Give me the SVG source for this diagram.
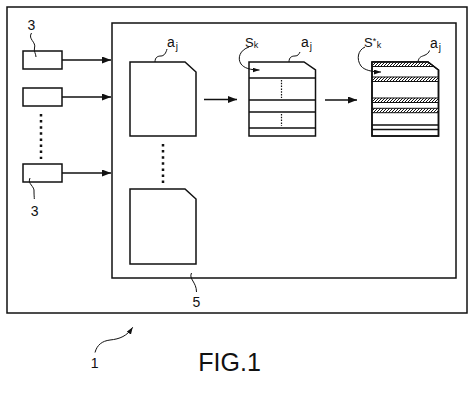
<svg xmlns="http://www.w3.org/2000/svg" width="474" height="420" viewBox="0 0 474 420">
<defs>
<style>
.ln{fill:none;stroke:#111;stroke-width:1.5}
.th{fill:none;stroke:#111;stroke-width:1}
.box{fill:#fff;stroke:#111;stroke-width:1.5}
.t{font-family:"Liberation Sans",Arial,sans-serif;fill:#111}
.dots{fill:none;stroke:#111;stroke-width:2.5;stroke-dasharray:2.5 3.6}
.fine{fill:none;stroke:#111;stroke-width:1.2;stroke-dasharray:1.5 1.3}
.hb{fill:url(#hatch);stroke:#111;stroke-width:1}
</style>
<pattern id="hatch" patternUnits="userSpaceOnUse" width="3" height="3">
<rect width="3" height="3" fill="#fff"/>
<path d="M-1,1 L1,-1 M0,3 L3,0 M2,4 L4,2" stroke="#111" stroke-width="1"/>
</pattern>
<marker id="ah" markerUnits="userSpaceOnUse" markerWidth="10" markerHeight="8" refX="9" refY="3.5" orient="auto">
<path d="M0,0 L9,3.5 L0,7 Z" fill="#111"/>
</marker>
<marker id="ahs" markerUnits="userSpaceOnUse" markerWidth="8" markerHeight="6" refX="7" refY="2.5" orient="auto">
<path d="M0,0 L7,2.5 L0,5 Z" fill="#111"/>
</marker>
</defs>
<rect width="474" height="420" fill="#fff"/>

<g id="system-1">
<rect class="ln" x="7" y="7" width="460" height="306"/>
</g>
<g id="unit-5">
<rect class="ln" x="112" y="23" width="344" height="255"/>
</g>

<g id="source-3a"><rect class="box" x="23" y="51" width="39" height="18"/></g>
<g id="source-3b"><rect class="box" x="23" y="88" width="39" height="18"/></g>
<g id="source-3c"><rect class="box" x="23" y="164" width="39" height="18"/></g>
<g id="source-dots"><line class="dots" x1="41" y1="114" x2="41" y2="159"/></g>

<g id="doc-aj-1"><path class="box" d="M130,62 H185 L196,72 V136 H130 Z"/></g>
<g id="doc-dots"><line class="dots" x1="163" y1="144" x2="163" y2="183"/></g>
<g id="doc-an"><path class="box" d="M130,189 H185 L196,199 V264 H130 Z"/></g>

<g id="doc-aj-segmented">
<path class="box" d="M249,62 H304 L315.5,70 V136 H249 Z"/>
<path class="ln" d="M249,78 H315.5 M249,100 H315.5 M249,112 H315.5 M249,128 H315.5"/>
<line class="fine" x1="281.5" y1="80" x2="281.5" y2="98"/>
<line class="fine" x1="281.5" y1="114" x2="281.5" y2="126"/>
</g>

<g id="doc-aj-marked">
<path class="box" d="M372,62 H428 L438.5,70 V136 H372 Z"/>
<path class="hb" d="M372,62 H428 L433.9,66.5 H372 Z"/>
<rect class="hb" x="372" y="77" width="66.5" height="4.5"/>
<rect class="hb" x="372" y="98" width="66.5" height="4.5"/>
<rect class="hb" x="372" y="108.3" width="66.5" height="4.4"/>
<path class="ln" d="M372,125 H438.5 M372,129.5 H438.5"/>
<path class="ln" d="M372,62 H428 L438.5,70 V136 H372 Z"/>
</g>

<g id="connectors">
<line class="ln" x1="62" y1="60" x2="111" y2="60" marker-end="url(#ah)"/>
<line class="ln" x1="62" y1="97" x2="111" y2="97" marker-end="url(#ah)"/>
<line class="ln" x1="62" y1="173" x2="111" y2="173" marker-end="url(#ah)"/>
<line class="ln" x1="204" y1="99.5" x2="237" y2="99.5" marker-end="url(#ah)"/>
<line class="ln" x1="325" y1="100" x2="357" y2="100" marker-end="url(#ah)"/>
<path class="th" d="M249,47 C240,50 237,58 241,64 C244,68 250,70 259.5,70" marker-end="url(#ahs)"/>
<path class="th" d="M365,47 C358,50 356,59 361,66 C364,70 372,72 381,72" marker-end="url(#ahs)"/>
<path class="th" d="M95,352.5 C97,345 102,341 110,340 C120,339 127,336 132.7,327.3" marker-end="url(#ahs)"/>
<path class="th" d="M31.5,33 c-4,6 5,9 3,15 c-1,3 1.5,6 1.5,9"/>
<path class="th" d="M30,178 c-3,6 5,8 4,14 c0,3 0.3,5 0.3,7"/>
<path class="th" d="M191.5,273 c-3,6 5,9 5,19"/>
<path class="th" d="M155,62 c0,-5 3,-6 6,-6 c3,0 5,-3 6,-7"/>
<path class="th" d="M289,62 c0,-5 3,-6 6,-6 c3,0 4,-2 5,-4"/>
<path class="th" d="M418,61.5 c1,-5 4,-5 6,-6 c3,-1 5,-3 5.5,-5"/>
</g>

<g id="labels">
<text class="t" x="31.5" y="30" font-size="14" text-anchor="middle">3</text>
<text class="t" x="34.7" y="216" font-size="14" text-anchor="middle">3</text>
<text class="t" x="196.3" y="306.5" font-size="14" text-anchor="middle">5</text>
<text class="t" x="94.7" y="368" font-size="14" text-anchor="middle">1</text>
<text class="t" x="167" y="47.3" font-size="14">a<tspan font-size="10" dx="1" dy="2.7">j</tspan></text>
<text class="t" x="245" y="47" font-size="13">S<tspan font-size="9" dy="1">k</tspan></text>
<text class="t" x="301" y="47.3" font-size="14">a<tspan font-size="10" dx="1" dy="2.7">j</tspan></text>
<text class="t" x="364" y="47.3" font-size="13">S<tspan font-size="9" dy="-3.5">*</tspan><tspan font-size="9" x="376.7" y="48">k</tspan></text>
<text class="t" x="430" y="48.3" font-size="14">a<tspan font-size="10" dx="1" dy="2.7">j</tspan></text>
<text class="t" x="198.3" y="370.7" font-size="25">FIG.1</text>
</g>
</svg>
